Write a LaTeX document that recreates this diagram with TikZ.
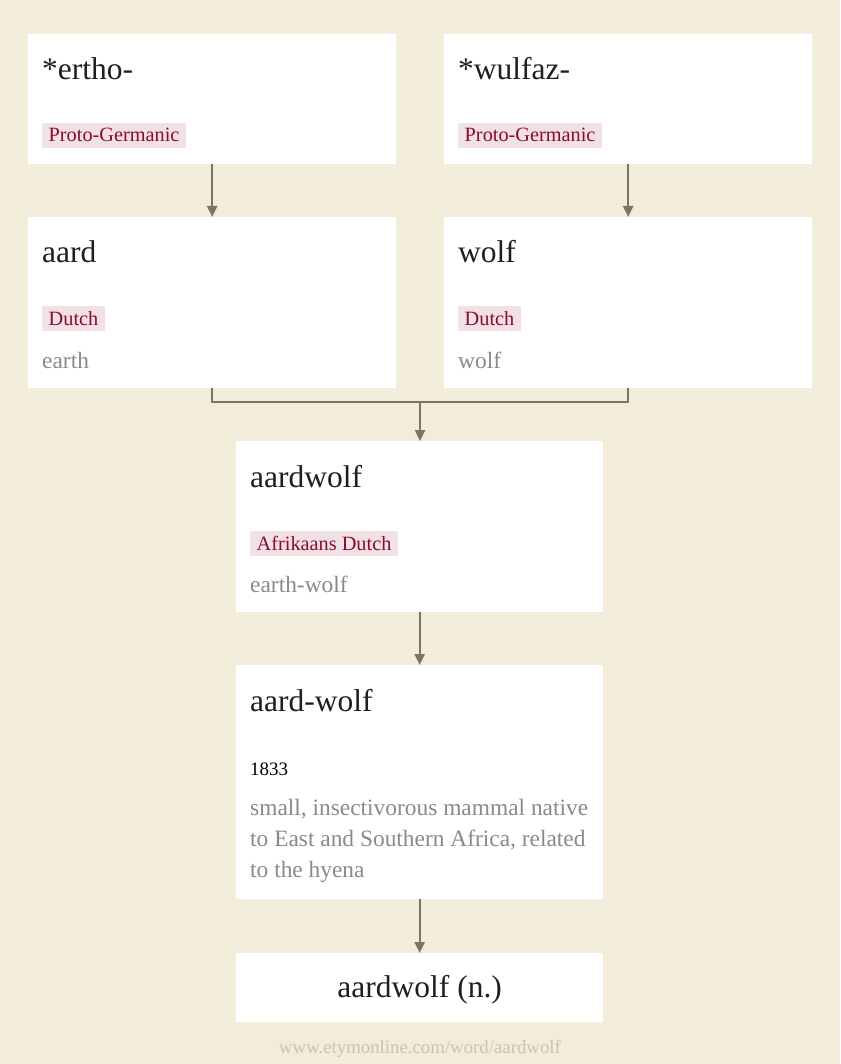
\documentclass[tikz,border=0pt]{standalone}
\usepackage{fontspec}
\setmainfont{Liberation Serif}
\usetikzlibrary{arrows.meta,positioning}

\definecolor{paper}{HTML}{F2ECDB}
\definecolor{linkgray}{HTML}{7B7565}
\definecolor{tagbg}{HTML}{F2E1E4}
\definecolor{tagred}{HTML}{8A0B2B}
\definecolor{descgray}{HTML}{8A8A8A}
\definecolor{footgray}{HTML}{CBC3AF}

\tikzset{
  wordbox/.style={fill=white, inner sep=0pt, anchor=north west, minimum width=368pt},
  word/.style={anchor=base west, inner sep=0pt, text=black!88, font=\fontsize{31.5}{36}\selectfont},
  lang/.style={anchor=base west, fill=tagbg, text=tagred, inner xsep=6.5pt, inner ysep=0pt,
    text height=19pt, text depth=6pt, font=\fontsize{20.3}{24}\selectfont},
  gloss/.style={anchor=base west, inner sep=0pt, text=descgray, font=\fontsize{23.4}{31}\selectfont},
  link/.style={draw=linkgray, line width=2.4pt},
  arr/.style={link, -{Triangle[width=10pt,length=11pt]}}
}

\begin{document}
\begin{tikzpicture}[x=1pt,y=-1pt]
  \useasboundingbox (0,0) rectangle (840,1064);
  \fill[paper] (0,0) rectangle (840,1064);

  % boxes
  \node[wordbox, minimum height=130pt] (ertho) at (28,34) {};
  \node[wordbox, minimum height=130pt] (wulfaz) at (444,34) {};
  \node[wordbox, minimum height=171pt] (aard) at (28,217) {};
  \node[wordbox, minimum height=171pt] (wolf) at (444,217) {};
  \node[wordbox, minimum width=367pt, minimum height=171pt] (aardwolfA) at (236,441) {};
  \node[wordbox, minimum width=367pt, minimum height=234pt] (aardwolfB) at (236,665) {};
  \node[wordbox, minimum width=367pt, minimum height=69pt] (aardwolfN) at (236,953) {};

  % texts
  \node[word] (erthoW) at (42,80) {*ertho-};
  \node[lang] (erthoL) at (42,142) {Proto-Germanic};
  \node[word] (wulfazW) at (458,80) {*wulfaz-};
  \node[lang] (wulfazL) at (458,142) {Proto-Germanic};

  \node[word] (aardW) at (42,263) {aard};
  \node[lang] (aardL) at (42,325) {Dutch};
  \node[gloss] (aardG) at (42,368) {earth};
  \node[word] (wolfW) at (458,263) {wolf};
  \node[lang] (wolfL) at (458,325) {Dutch};
  \node[gloss] (wolfG) at (458,368) {wolf};

  \node[word] (aardwolfAW) at (250,487) {aardwolf};
  \node[lang] (aardwolfAL) at (250,550) {Afrikaans Dutch};
  \node[gloss] (aardwolfAG) at (250,592) {earth-wolf};

  \node[word] (aardwolfBW) at (250,711) {aard-wolf};
  \node[anchor=base west, inner sep=0pt, font=\fontsize{19}{22}\selectfont] (year) at (250,775) {1833};
  \foreach \ln [count=\k] in {{small, insectivorous mammal native},{to East and Southern Africa, related},{to the hyena}}
    \node[gloss] (def\k) at (250,784+31*\k) {\ln};

  \node[word, anchor=base] (aardwolfNW) at (aardwolfN.center |- 0,997) {aardwolf (n.)};

  \node[anchor=base, inner sep=0pt, text=footgray, font=\fontsize{18.8}{22}\selectfont] (footer) at (420,1053) {www.etymonline.com/word/aardwolf};

  % connectors
  \draw[arr] (ertho) -- (aard);
  \draw[arr] (wulfaz) -- (wolf);
  \coordinate (join) at (420,402);
  \draw[link] (aard.south) |- (join) -| (wolf.south);
  \draw[arr] (join) -- (join |- aardwolfA.north);
  \draw[arr] (aardwolfA) -- (aardwolfB);
  \draw[arr] (aardwolfB) -- (aardwolfN);
\end{tikzpicture}
\end{document}
